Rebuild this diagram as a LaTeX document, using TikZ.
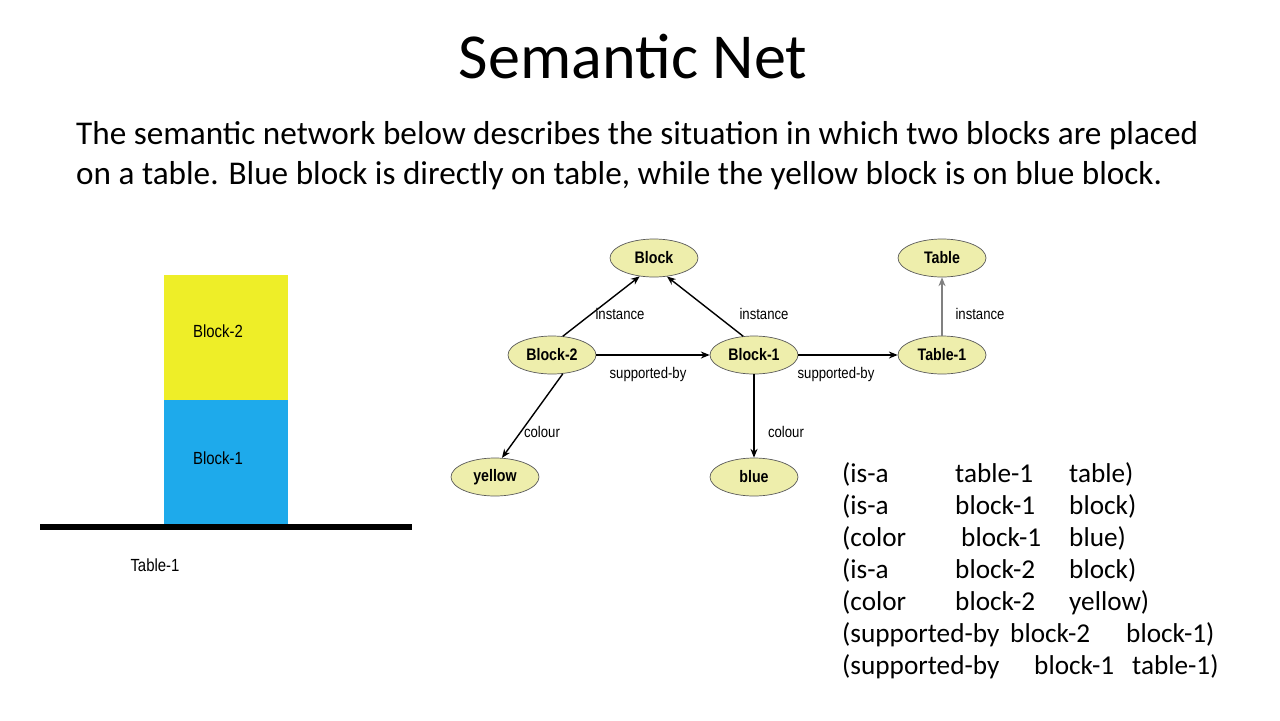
\documentclass[tikz,border=0pt]{standalone}
\usepackage{fontspec}
\setmainfont{Carlito}
\newfontfamily\arialf{Liberation Sans}[FakeStretch=0.85]
\usetikzlibrary{shapes.geometric,arrows.meta}
\definecolor{nodefill}{RGB}{238,238,172}
\definecolor{blockyellow}{RGB}{238,238,40}
\definecolor{blockblue}{RGB}{30,170,235}
\begin{document}
\begin{tikzpicture}[x=0.02cm,y=-0.02cm,
  nd/.style={ellipse,draw=gray!70!black,fill=nodefill,minimum width=1.76cm,minimum height=0.76cm,inner sep=0pt,font=\arialf\bfseries\fontsize{9.5}{10}\selectfont},
  lbl/.style={font=\arialf\fontsize{8.8}{10}\selectfont},
  ar/.style={-{Stealth[length=5pt,width=4pt]},thick},
  tup/.style={anchor=base west,font=\fontsize{15.5}{18}\selectfont}]
\useasboundingbox (0,0) rectangle (1280,720);
\node (title) at (633,57) {\fontsize{36.5}{40}\selectfont Semantic Net};
\node[anchor=west,align=left,font=\fontsize{18.9}{22.7}\selectfont] (desc) at (70,156) {The semantic network below describes the situation in which two blocks are placed\\on a table. Blue block is directly on table, while the yellow block is on blue block.};
% left picture
\fill[blockyellow] (164,275) rectangle (288,400);
\fill[blockblue] (164,400) rectangle (288,524);
\draw[line width=0.12cm] (40,527) -- (412,527);
\node[lbl,font=\arialf\fontsize{10}{11}\selectfont] (lb2) at (218,331) {Block-2};
\node[lbl,font=\arialf\fontsize{10}{11}\selectfont] (lb1) at (218,458) {Block-1};
\node[lbl,font=\arialf\fontsize{10}{11}\selectfont] (lt1) at (155,565) {Table-1};
% net
\node[nd] (block) at (654,258) {Block};
\node[nd] (table) at (942,258) {Table};
\node[nd] (b2) at (552,355) {Block-2};
\node[nd] (b1) at (754,355) {Block-1};
\node[nd] (t1) at (942,355) {Table-1};
\node[nd] (yellow) at (495,477) {yellow};
\node[nd] (blue) at (754,477) {blue};
\draw[ar] (b2.60) -- (block.232);
\draw[ar] (b1.120) -- (block.305);
\draw[ar,gray] (t1) -- (table);
\draw[ar] (b2) -- (b1);
\draw[ar] (b1) -- (t1);
\draw[ar] (b2.300) -- (yellow.70);
\draw[ar] (b1) -- (blue);
\node[lbl] (l1) at (620,314) {instance};
\node[lbl] (l2) at (764,314) {instance};
\node[lbl] (l3) at (980,314) {instance};
\node[lbl] (l4) at (648,374) {supported-by};
\node[lbl] (l5) at (836,374) {supported-by};
\node[lbl] (l6) at (542,432) {colour};
\node[lbl] (l7) at (786,432) {colour};
% tuples
\foreach \y/\a/\xa/\b/\xb/\c [count=\i] in {
 482/(is-a/954/table-1/1068/table),
 514/(is-a/954/block-1/1068/block),
 546/(color/960/block-1/1068/blue),
 578/(is-a/954/block-2/1068/block),
 610/(color/954/block-2/1068/yellow),
 642/(supported-by/1009/block-2/1125/block-1),
 674/(supported-by/1033/block-1/1131/table-1)}{
 \node[tup] (ta\i) at (836,\y) {\a};
 \node[tup] (tb\i) at (\xa-5,\y) {\b};
 \node[tup] (tc\i) at (\xb-5,\y) {\c};
}
\end{tikzpicture}
\end{document}
